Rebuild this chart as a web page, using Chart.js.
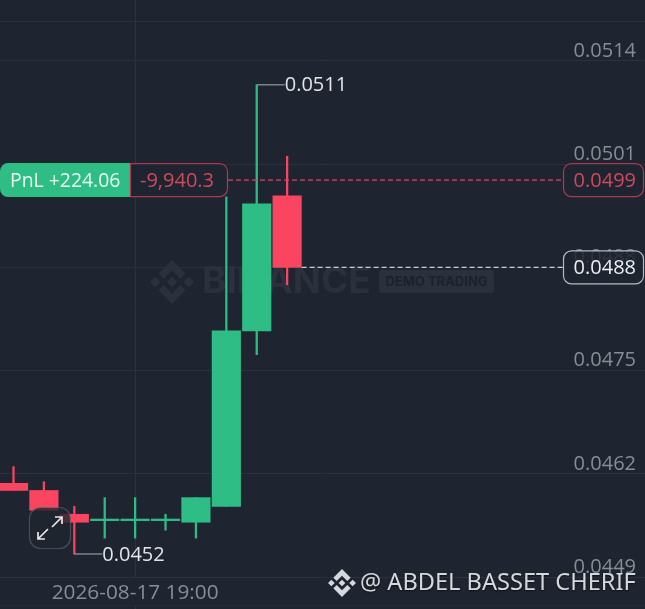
<!DOCTYPE html>
<html>
<head>
<meta charset="utf-8">
<style>
  html, body { margin: 0; padding: 0; background: #1f2530; overflow: hidden; }
  #wrap { position: relative; width: 645px; height: 609px; }
  canvas { display: block; }
</style>
<script src="https://cdn.jsdelivr.net/npm/chart.js@4/dist/chart.umd.min.js"></script>
</head>
<body>
<div id="wrap"><canvas id="candles" width="645" height="609"></canvas></div>
<script>
// oldest candle first
const candleIndex = [0, 1, 2, 3, 4, 5, 6, 7, 8, 9];
const opens  = [0.04608, 0.04599, 0.04569, 0.04561, 0.04561, 0.04561, 0.04559, 0.04579, 0.04800, 0.04970];
const closes = [0.04599, 0.04574, 0.04559, 0.04561, 0.04561, 0.04561, 0.04590, 0.04800, 0.04960, 0.04880];
const highs  = [0.04629, 0.04610, 0.04579, 0.04590, 0.04590, 0.04569, 0.04590, 0.04969, 0.05110, 0.05020];
const lows   = [0.04599, 0.04574, 0.04519, 0.04539, 0.04539, 0.04549, 0.04539, 0.04579, 0.04770, 0.04858];

const priceTicks = [0.0514, 0.0501, 0.0488, 0.0475, 0.0462, 0.0449];
const unlabelledGrid = [0.0519, 0.044535];
const timeTicks = [4];
const timeLabels = ['2026-08-17 19:00'];

const highCandle = 8;
const lowCandle = 2;
const positionPrice = 0.0499;
const lastPrice = 0.0488;
const pnlText = 'PnL +224.06';
const pnlValueText = '-9,940.3';

const GREEN = '#2ebd85';
const RED = '#f9455f';
const BG = '#1f2530';
const GRID = '#2b313d';
const AXIS_TEXT = '#878c95';
const FONT = '"Open Sans", "Noto Sans", sans-serif';

function candleColor(i) {
    return closes[i] >= opens[i] ? GREEN : RED;
}

function roundedPath(ctx, x, y, w, h, r) {
    ctx.beginPath();
    ctx.roundRect(x, y, w, h, r);
}

// the axes sit inside the plot, so they must not shrink it
function noAxisPadding(scale) {
    scale.paddingTop = 0;
    scale.paddingBottom = 0;
    scale.paddingLeft = 0;
    scale.paddingRight = 0;
    if (scale.isHorizontal()) {
        scale.height = 0;
    } else {
        scale.width = 0;
    }
}

function drawLogo(ctx, cx, cy, s, color) {
    // binance mark: four small diamonds and two chevrons
    ctx.fillStyle = color;
    const diamond = (x, y, r) => {
        ctx.beginPath();
        ctx.moveTo(x, y - r);
        ctx.lineTo(x + r, y);
        ctx.lineTo(x, y + r);
        ctx.lineTo(x - r, y);
        ctx.closePath();
        ctx.fill();
    };
    diamond(cx, cy, s * 0.24);
    diamond(cx - s * 0.76, cy, s * 0.24);
    diamond(cx + s * 0.76, cy, s * 0.24);
    [-1, 1].forEach(d => {
        ctx.beginPath();
        ctx.moveTo(cx, cy + d * s);
        ctx.lineTo(cx + s * 0.62, cy + d * s * 0.38);
        ctx.lineTo(cx + s * 0.38, cy + d * s * 0.14);
        ctx.lineTo(cx, cy + d * s * 0.52);
        ctx.lineTo(cx - s * 0.38, cy + d * s * 0.14);
        ctx.lineTo(cx - s * 0.62, cy + d * s * 0.38);
        ctx.closePath();
        ctx.fill();
    });
}

const watermark = {
    id: 'watermark',
    beforeDatasetsDraw(chart) {
        const ctx = chart.ctx;
        ctx.save();
        // time axis band hides the vertical grid line
        ctx.fillStyle = BG;
        ctx.fillRect(0, 578, chart.width, 27.5);
        drawLogo(ctx, 172, 282, 22, '#2a303c');
        ctx.fillStyle = '#2a303c';
        ctx.font = '700 37px Inter, ' + FONT;
        ctx.textBaseline = 'middle';
        ctx.fillText('BINANCE', 202, 282);
        roundedPath(ctx, 379, 270, 115, 23, 3);
        ctx.fill();
        ctx.fillStyle = '#1c212b';
        ctx.font = '700 13px Inter, ' + FONT;
        ctx.textAlign = 'center';
        ctx.fillText('DEMO TRADING', 436.5, 282);
        ctx.restore();
    }
};

const overlays = {
    id: 'overlays',
    afterDatasetsDraw(chart) {
        const ctx = chart.ctx;
        const x = chart.scales.x;
        const y = chart.scales.y;
        ctx.save();
        ctx.textBaseline = 'middle';

        // dashed price lines
        const posY = y.getPixelForValue(positionPrice);
        const lastY = y.getPixelForValue(lastPrice);
        ctx.lineWidth = 1.3;
        ctx.setLineDash([5, 3]);
        ctx.strokeStyle = '#d9455c';
        ctx.beginPath();
        ctx.moveTo(228, posY);
        ctx.lineTo(563, posY);
        ctx.stroke();
        ctx.strokeStyle = '#c9ccd1';
        ctx.beginPath();
        ctx.moveTo(x.getPixelForValue(9) + 14.5, lastY);
        ctx.lineTo(563, lastY);
        ctx.stroke();
        ctx.setLineDash([]);

        // PnL pill
        roundedPath(ctx, 0, posY - 17, 130, 34, [8, 0, 0, 8]);
        ctx.fillStyle = GREEN;
        ctx.fill();
        roundedPath(ctx, 130.5, posY - 16.5, 97, 33, [0, 8, 8, 0]);
        ctx.fillStyle = BG;
        ctx.fill();
        ctx.strokeStyle = '#a83c4e';
        ctx.lineWidth = 1.2;
        ctx.stroke();
        ctx.font = '19.4px ' + FONT;
        ctx.fillStyle = '#eafaf3';
        ctx.fillText(pnlText, 10, posY + 1);
        ctx.fillStyle = '#d0485c';
        ctx.font = '20px ' + FONT;
        ctx.fillText(pnlValueText, 140, posY + 1);

        // price tags on the axis
        roundedPath(ctx, 563.5, posY - 16.5, 80, 33, 8);
        ctx.fillStyle = BG;
        ctx.fill();
        ctx.strokeStyle = '#a83c4e';
        ctx.stroke();
        roundedPath(ctx, 563.5, lastY - 16.5, 80, 33, 8);
        ctx.fillStyle = 'rgba(31,37,48,0.85)';
        ctx.fill();
        ctx.strokeStyle = '#b5b9c0';
        ctx.stroke();
        ctx.textAlign = 'right';
        ctx.fillStyle = '#d0485c';
        ctx.fillText(positionPrice.toFixed(4), 636, posY + 1);
        ctx.fillStyle = '#eceef0';
        ctx.fillText(lastPrice.toFixed(4), 636, lastY + 1);
        ctx.textAlign = 'left';

        // high and low markers
        [[highCandle, highs[highCandle]], [lowCandle, lows[lowCandle]]].forEach(([i, v]) => {
            const px = x.getPixelForValue(i);
            const py = y.getPixelForValue(v);
            ctx.strokeStyle = '#8d9096';
            ctx.lineWidth = 1.3;
            ctx.beginPath();
            ctx.moveTo(px, py);
            ctx.lineTo(px + 28, py);
            ctx.stroke();
            ctx.fillStyle = '#e2e4e7';
            ctx.fillText(v.toFixed(4), px + 28, py + 1);
        });

        // expand button
        roundedPath(ctx, 29.5, 507.5, 41, 41, 11);
        ctx.fillStyle = 'rgba(31,37,48,0.8)';
        ctx.fill();
        ctx.strokeStyle = 'rgba(120,126,138,0.45)';
        ctx.lineWidth = 1.2;
        ctx.stroke();
        ctx.strokeStyle = '#e6e8ea';
        ctx.lineWidth = 1.7;
        ctx.beginPath();
        ctx.moveTo(52, 527); ctx.lineTo(62, 517);
        ctx.moveTo(55, 517); ctx.lineTo(62, 517); ctx.lineTo(62, 524);
        ctx.moveTo(48, 529); ctx.lineTo(38, 539);
        ctx.moveTo(38, 532); ctx.lineTo(38, 539); ctx.lineTo(45, 539);
        ctx.stroke();

        // footer credit
        drawLogo(ctx, 342, 583, 14, '#d5d8dc');
        ctx.font = '23.6px "Noto Sans", sans-serif';
        ctx.shadowColor = 'rgba(0,0,0,0.6)';
        ctx.shadowBlur = 2;
        ctx.shadowOffsetY = 1;
        ctx.fillStyle = '#d5d8dc';
        ctx.fillText('@ ABDEL BASSET CHERIF', 360, 583);
        ctx.restore();
    }
};

const chart = new Chart(document.getElementById('candles'), {
    type: 'bar',
    data: {
        datasets: [{
            label: 'wick',
            data: candleIndex.map(i => ({ x: i, y: [lows[i], highs[i]] })),
            backgroundColor: candleIndex.map(candleColor),
            barThickness: 1.6,
            grouped: false,
            order: 2
        }, {
            label: 'body',
            data: candleIndex.map(i => ({ x: i, y: [opens[i], closes[i]] })),
            backgroundColor: candleIndex.map(candleColor),
            barThickness: 28.5,
            minBarLength: 1.6,
            grouped: false,
            order: 1
        }]
    },
    options: {
        responsive: false,
        maintainAspectRatio: false,
        animation: false,
        layout: { padding: 0 },
        plugins: { legend: { display: false }, tooltip: { enabled: false } },
        scales: {
            x: {
                type: 'linear',
                position: 'bottom',
                offset: false,
                min: -0.444,
                max: 20.77,
                afterBuildTicks: axis => { axis.ticks = timeTicks.map(v => ({ value: v })); },
                afterFit: noAxisPadding,
                grid: { color: GRID, offset: false, drawTicks: false },
                border: { display: false },
                ticks: {
                    mirror: true,
                    padding: 3.7,
                    z: 1,
                    maxRotation: 0,
                    autoSkip: false,
                    color: AXIS_TEXT,
                    font: { family: FONT, size: 20.8 },
                    callback: v => timeLabels[timeTicks.indexOf(v)]
                }
            },
            y: {
                position: 'right',
                min: 0.044497,
                max: 0.052168,
                afterBuildTicks: axis => {
                    axis.ticks = priceTicks.concat(unlabelledGrid).map(v => ({ value: v }));
                },
                afterFit: noAxisPadding,
                grid: { color: GRID, drawTicks: false },
                border: { display: false },
                ticks: {
                    mirror: true,
                    padding: -9,
                    autoSkip: false,
                    color: AXIS_TEXT,
                    font: { family: FONT, size: 20, lineHeight: 1 },
                    // blank second line lifts the label above its grid line
                    callback: v => unlabelledGrid.includes(v) ? '' : [v.toFixed(4), '']
                }
            }
        }
    },
    plugins: [watermark, overlays]
});
</script>
</body>
</html>
